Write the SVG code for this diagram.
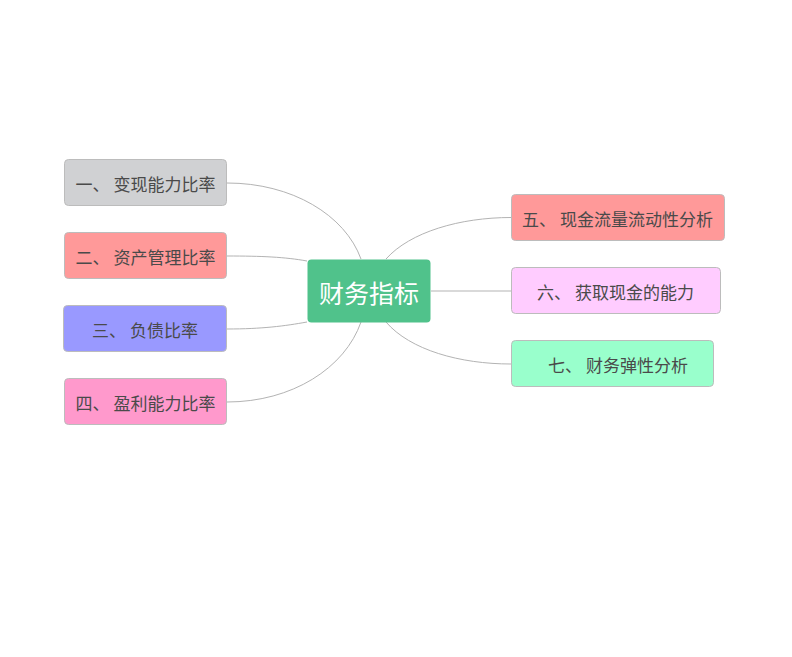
<svg xmlns="http://www.w3.org/2000/svg" width="792" height="657" viewBox="0 0 792 657">
<style>
.node rect{stroke:#bcbcbc;stroke-width:1}
.node text{font-family:"Microsoft YaHei","Noto Sans CJK SC",sans-serif;font-size:17px;fill:#4a4a4a;text-anchor:middle}
#root text{font-size:25px;fill:#ffffff}
#root rect{stroke:none}
.conn path{fill:none;stroke:#b3b3b3;stroke-width:1}
</style>
<rect width="792" height="657" fill="#ffffff"/>
<g class="conn" id="connectors">
<path d="M227,183 C292,183 345,215 361,259"/>
<path d="M227,256 C262,256 285,257 307,261"/>
<path d="M227,329 C262,329 285,326 307,322"/>
<path d="M227,402 C292,402 345,368 361,322"/>
<path d="M386,259 C410,232 460,217.5 511,217.5"/>
<path d="M431,291 L511,291"/>
<path d="M386,322 C410,350 460,364 511,364"/>
</g>
<g class="node" id="root"><rect x="307.5" y="259.5" width="123" height="63" rx="4" fill="#50c28b"/><text x="369" y="303">财务指标</text></g>
<g class="node" id="n1"><rect x="64.5" y="159.5" width="162" height="46" rx="4" fill="#d0d1d3"/><text x="145.5" y="190.5">一、 变现能力比率</text></g>
<g class="node" id="n2"><rect x="64.5" y="232.5" width="162" height="46" rx="4" fill="#ff9999"/><text x="145.5" y="263.5">二、 资产管理比率</text></g>
<g class="node" id="n3"><rect x="63.5" y="305.5" width="163" height="46" rx="4" fill="#9999ff"/><text x="145" y="336.5">三、 负债比率</text></g>
<g class="node" id="n4"><rect x="64.5" y="378.5" width="162" height="46" rx="4" fill="#ff99cc"/><text x="145.5" y="409.5">四、 盈利能力比率</text></g>
<g class="node" id="n5"><rect x="511.5" y="194.5" width="213" height="46" rx="4" fill="#ff9999"/><text x="617.5" y="225.5">五、 现金流量流动性分析</text></g>
<g class="node" id="n6"><rect x="511.5" y="267.5" width="209" height="46" rx="4" fill="#ffccff"/><text x="615.5" y="298.5">六、 获取现金的能力</text></g>
<g class="node" id="n7"><rect x="511.5" y="340.5" width="202" height="46" rx="4" fill="#99ffcc"/><text x="618" y="371.5">七、 财务弹性分析</text></g>
</svg>
